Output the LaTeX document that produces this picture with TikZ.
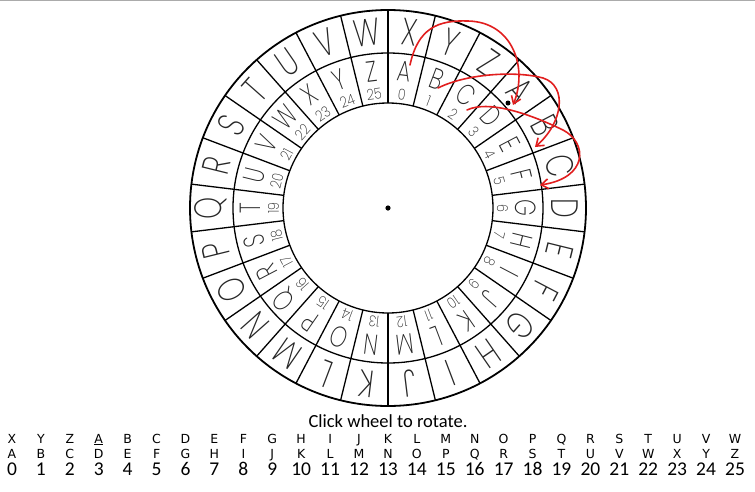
\documentclass[tikz,border=0pt]{standalone}
\usepackage{fontspec}
\usepackage{tikz}
\usetikzlibrary{arrows.meta}
\newfontfamily\wheelfont{Poppins ExtraLight}
\newfontfamily\tabfont{DejaVu Sans}
\newfontfamily\clickfont{Carlito}
\definecolor{penred}{RGB}{225,30,30}

\begin{document}
\begin{tikzpicture}[x=1pt, y=1pt,
    outletter/.style={inner sep=0pt, xscale=0.74, font=\wheelfont\fontsize{38}{38}\selectfont, text=black!85},
    inletter/.style={inner sep=0pt, xscale=0.74, font=\wheelfont\fontsize{29}{29}\selectfont, text=black!85},
    innum/.style={inner sep=0pt, xscale=0.85, font=\wheelfont\fontsize{15}{15}\selectfont, text=black!85},
    tabletter/.style={anchor=base, inner sep=0pt, font=\tabfont\fontsize{12.5}{12.5}\selectfont},
    tabnum/.style={anchor=base, inner sep=0pt, font=\clickfont\fontsize{19.5}{19.5}\selectfont},
    pen/.style={penred, line width=1.6pt, line cap=round, line join=round}]
    % picture frame
    \useasboundingbox (-388,-283) rectangle (367,208);
    \draw[black!33, line width=1.2pt] (-388,207.4) -- (367,207.4);

    % draw the wheel
    \draw[line width=1.8pt] (0,0) circle (198);
    \draw[line width=1.3pt] (0,0) circle (155);
    \draw[line width=1.3pt] (0,0) circle (105);
    \fill (0,0) circle (2.6);

    % the spokes between the letters
    \foreach \i in {0,...,25}
        \draw[line width=1.3pt] (90-\i*360/26:105) -- (90-\i*360/26:198);

    % the letters on the two rings and the numbers
    \foreach \o/\n [count=\i from 0] in {X/A,Y/B,Z/C,A/D,B/E,C/F,D/G,E/H,F/I,G/J,H/K,I/L,J/M,
                                         K/N,L/O,M/P,N/Q,O/R,P/S,Q/T,R/U,S/V,T/W,U/X,V/Y,W/Z} {
        \pgfmathsetmacro{\a}{90-(\i+0.5)*360/26}
        \node[rotate=\a-90, outletter] (out\i) at (\a:177) {\o};
        \node[rotate=\a-90, inletter] (in\i) at (\a:137.5) {\n};
        \node[rotate=\a-90, innum] (no\i) at (\a:114.5) {\i};
    }

    % the text under the wheel
    \node[anchor=base, inner sep=0pt, font=\clickfont\fontsize{18.5}{18.5}\selectfont] (click) at (0,-219) {Click wheel to rotate.};

    % the table of the shift
    \foreach \o/\n [count=\i from 0] in {X/A,Y/B,Z/C,{\underline{A}}/D,B/E,C/F,D/G,E/H,F/I,G/J,H/K,I/L,J/M,
                                         K/N,L/O,M/P,N/Q,O/R,P/S,Q/T,R/U,S/V,T/W,U/X,V/Y,W/Z} {
        \node[tabletter] (top\i) at (-376+28.92*\i,-235) {\o};
        \node[tabletter] (mid\i) at (-376+28.92*\i,-250) {\n};
        \node[tabnum] (num\i) at (-376+28.92*\i,-267) {\i};
    }

    % the red strokes (start and end points)
    \coordinate (s1) at (22,143);
    \coordinate (e1) at (125,103);
    \coordinate (s2) at (50,120);
    \coordinate (e2) at (147,61);
    \coordinate (s3) at (79,98);
    \coordinate (e3) at (152,23);

    % draw the red arrows
    \draw[pen, -{Straight Barb[length=7pt, width=10pt]}] (s1) .. controls (30,180) and (50,188) .. (80,187)
        .. controls (125,186) and (140,140) .. (e1);
    \draw[pen, -{Straight Barb[length=7pt, width=10pt]}] (s2) .. controls (80,135) and (130,137) .. (155,130)
        .. controls (180,122) and (175,85) .. (e2);
    \draw[pen, -{Straight Barb[length=7pt, width=10pt]}] (s3) .. controls (100,108) and (140,95) .. (175,78)
        .. controls (200,65) and (200,30) .. (e3);
    \fill (120,105) circle (2.5);
\end{tikzpicture}
\end{document}
